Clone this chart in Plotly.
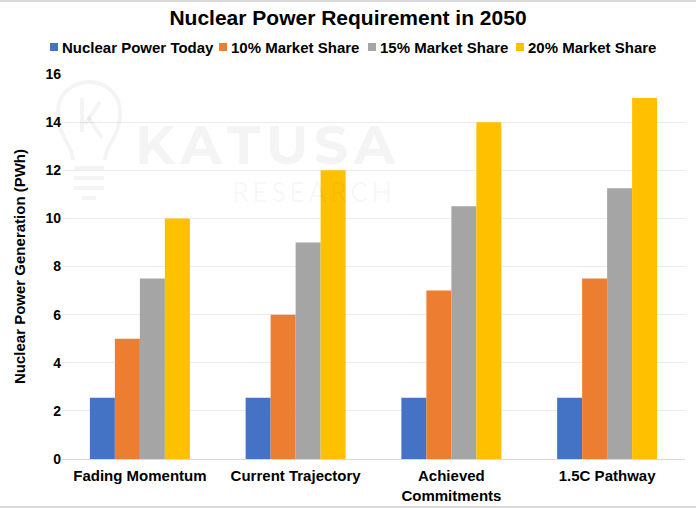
import plotly.graph_objects as go

categories = ["Fading Momentum", "Current Trajectory", "Achieved<br>Commitments", "1.5C Pathway"]
series_names = ["Nuclear Power Today", "10% Market Share", "15% Market Share", "20% Market Share"]
today = [2.55, 2.55, 2.55, 2.55]
share10 = [5.0, 6.0, 7.0, 7.5]
share15 = [7.5, 9.0, 10.5, 11.25]
share20 = [10.0, 12.0, 14.0, 15.0]
colors = ["#4472C4", "#ED7D31", "#A5A5A5", "#FFC000"]
y_ticks = [0, 2, 4, 6, 8, 10, 12, 14, 16]

W, H = 696, 508
ML, MR, MT, MB = 62, 11, 74, 49
PW, PH = W - ML - MR, H - MT - MB

def px(x):
    return (x - ML) / PW

def py(y):
    return (H - MB - y) / PH

FONT = "Liberation Sans, Arial, sans-serif"

fig = go.Figure()
for name, vals, col in zip(series_names, [today, share10, share15, share20], colors):
    fig.add_trace(go.Bar(x=categories, y=vals, name=name, marker_color=col,
                         marker_line_width=0, showlegend=False))

# watermark shapes (lightbulb logo)
wm = "rgba(0,0,0,0.045)"
bulb = ("M {:.4f},{:.4f} C {:.4f},{:.4f} {:.4f},{:.4f} {:.4f},{:.4f} "
        "C {:.4f},{:.4f} {:.4f},{:.4f} {:.4f},{:.4f} "
        "C {:.4f},{:.4f} {:.4f},{:.4f} {:.4f},{:.4f} "
        "C {:.4f},{:.4f} {:.4f},{:.4f} {:.4f},{:.4f}").format(
    px(73), py(160), px(73), py(145), px(58), py(138), px(58), py(112),
    px(58), py(94), px(72), py(82), px(89), py(82),
    px(106), py(82), px(120), py(94), px(120), py(112),
    px(120), py(138), px(105), py(145), px(105), py(160))
shapes = [dict(type="path", path=bulb, xref="paper", yref="paper",
               line=dict(color=wm, width=4), layer="above")]
for (x0, y0, x1, y1) in [(74, 168, 104, 168), (74, 178, 104, 178), (74, 188, 104, 188),
                         (82, 198, 96, 198), (82, 98, 82, 132), (85, 124, 100, 102),
                         (88, 117, 102, 138)]:
    shapes.append(dict(type="line", xref="paper", yref="paper",
                       x0=px(x0), y0=py(y0), x1=px(x1), y1=py(y1),
                       line=dict(color=wm, width=4), layer="above"))
# border of image
shapes.append(dict(type="rect", xref="paper", yref="paper",
                   x0=px(-1), y0=py(H - 1), x1=px(W + 1), y1=py(1),
                   line=dict(color="#d9d9d9", width=2), fillcolor="rgba(0,0,0,0)"))

annotations = [
    dict(text="K\u200aA\u200aT\u200aU\u200aS\u200aA", x=px(265), y=py(145), xref="paper", yref="paper",
         xanchor="center", yanchor="middle",
         showarrow=False, font=dict(family="Montserrat, Lato, Liberation Sans, sans-serif", size=54,
                                    color="rgba(0,0,0,0.045)", weight="bold")),
    dict(text="R\u2009E\u2009S\u2009E\u2009A\u2009R\u2009C\u2009H", x=px(312), y=py(191), xref="paper", yref="paper",
         xanchor="center", yanchor="middle",
         showarrow=False, font=dict(family="Lato, Liberation Sans, sans-serif", size=27,
                                    color="rgba(0,0,0,0.045)")),
]

# manual legend (squares + bold text)
legend_sq_x = [50, 219, 368, 516]
for name, col, sx in zip(series_names, colors, legend_sq_x):
    shapes.append(dict(type="rect", xref="paper", yref="paper",
                       x0=px(sx), x1=px(sx + 8), y0=py(51), y1=py(43),
                       fillcolor=col, line=dict(width=0)))
    annotations.append(dict(text="<b>" + name + "</b>", x=px(sx + 10), y=py(47),
                            xref="paper", yref="paper", xanchor="left", yanchor="middle",
                            showarrow=False, font=dict(size=15, family=FONT, color="#000")))

fig.update_layout(
    width=W, height=H,
    margin=dict(l=ML, r=MR, t=MT, b=MB, autoexpand=False),
    paper_bgcolor="white", plot_bgcolor="white",
    font=dict(family=FONT, color="#000000", size=14),
    title=dict(text="<b>Nuclear Power Requirement in 2050</b>", x=0.5, xanchor="center",
               y=1 - 18 / H, yanchor="middle", font=dict(size=21, family=FONT)),
    barmode="group", bargap=0.358, bargroupgap=0,
    showlegend=False,
    xaxis=dict(showline=True, linecolor="#d9d9d9", linewidth=1, ticks="", automargin=False,
               tickfont=dict(size=15, weight="bold"), ticklabelstandoff=3),
    yaxis=dict(range=[0, 16], tickvals=y_ticks, showgrid=True, gridcolor="#ececec",
               zeroline=False, showline=False, ticks="", automargin=False,
               tickfont=dict(size=14, weight="bold"),
               title=dict(text="<b>Nuclear Power Generation (PWh)</b>", font=dict(size=15), standoff=16)),
    shapes=shapes,
    annotations=annotations,
)

fig.write_html("out.html")
